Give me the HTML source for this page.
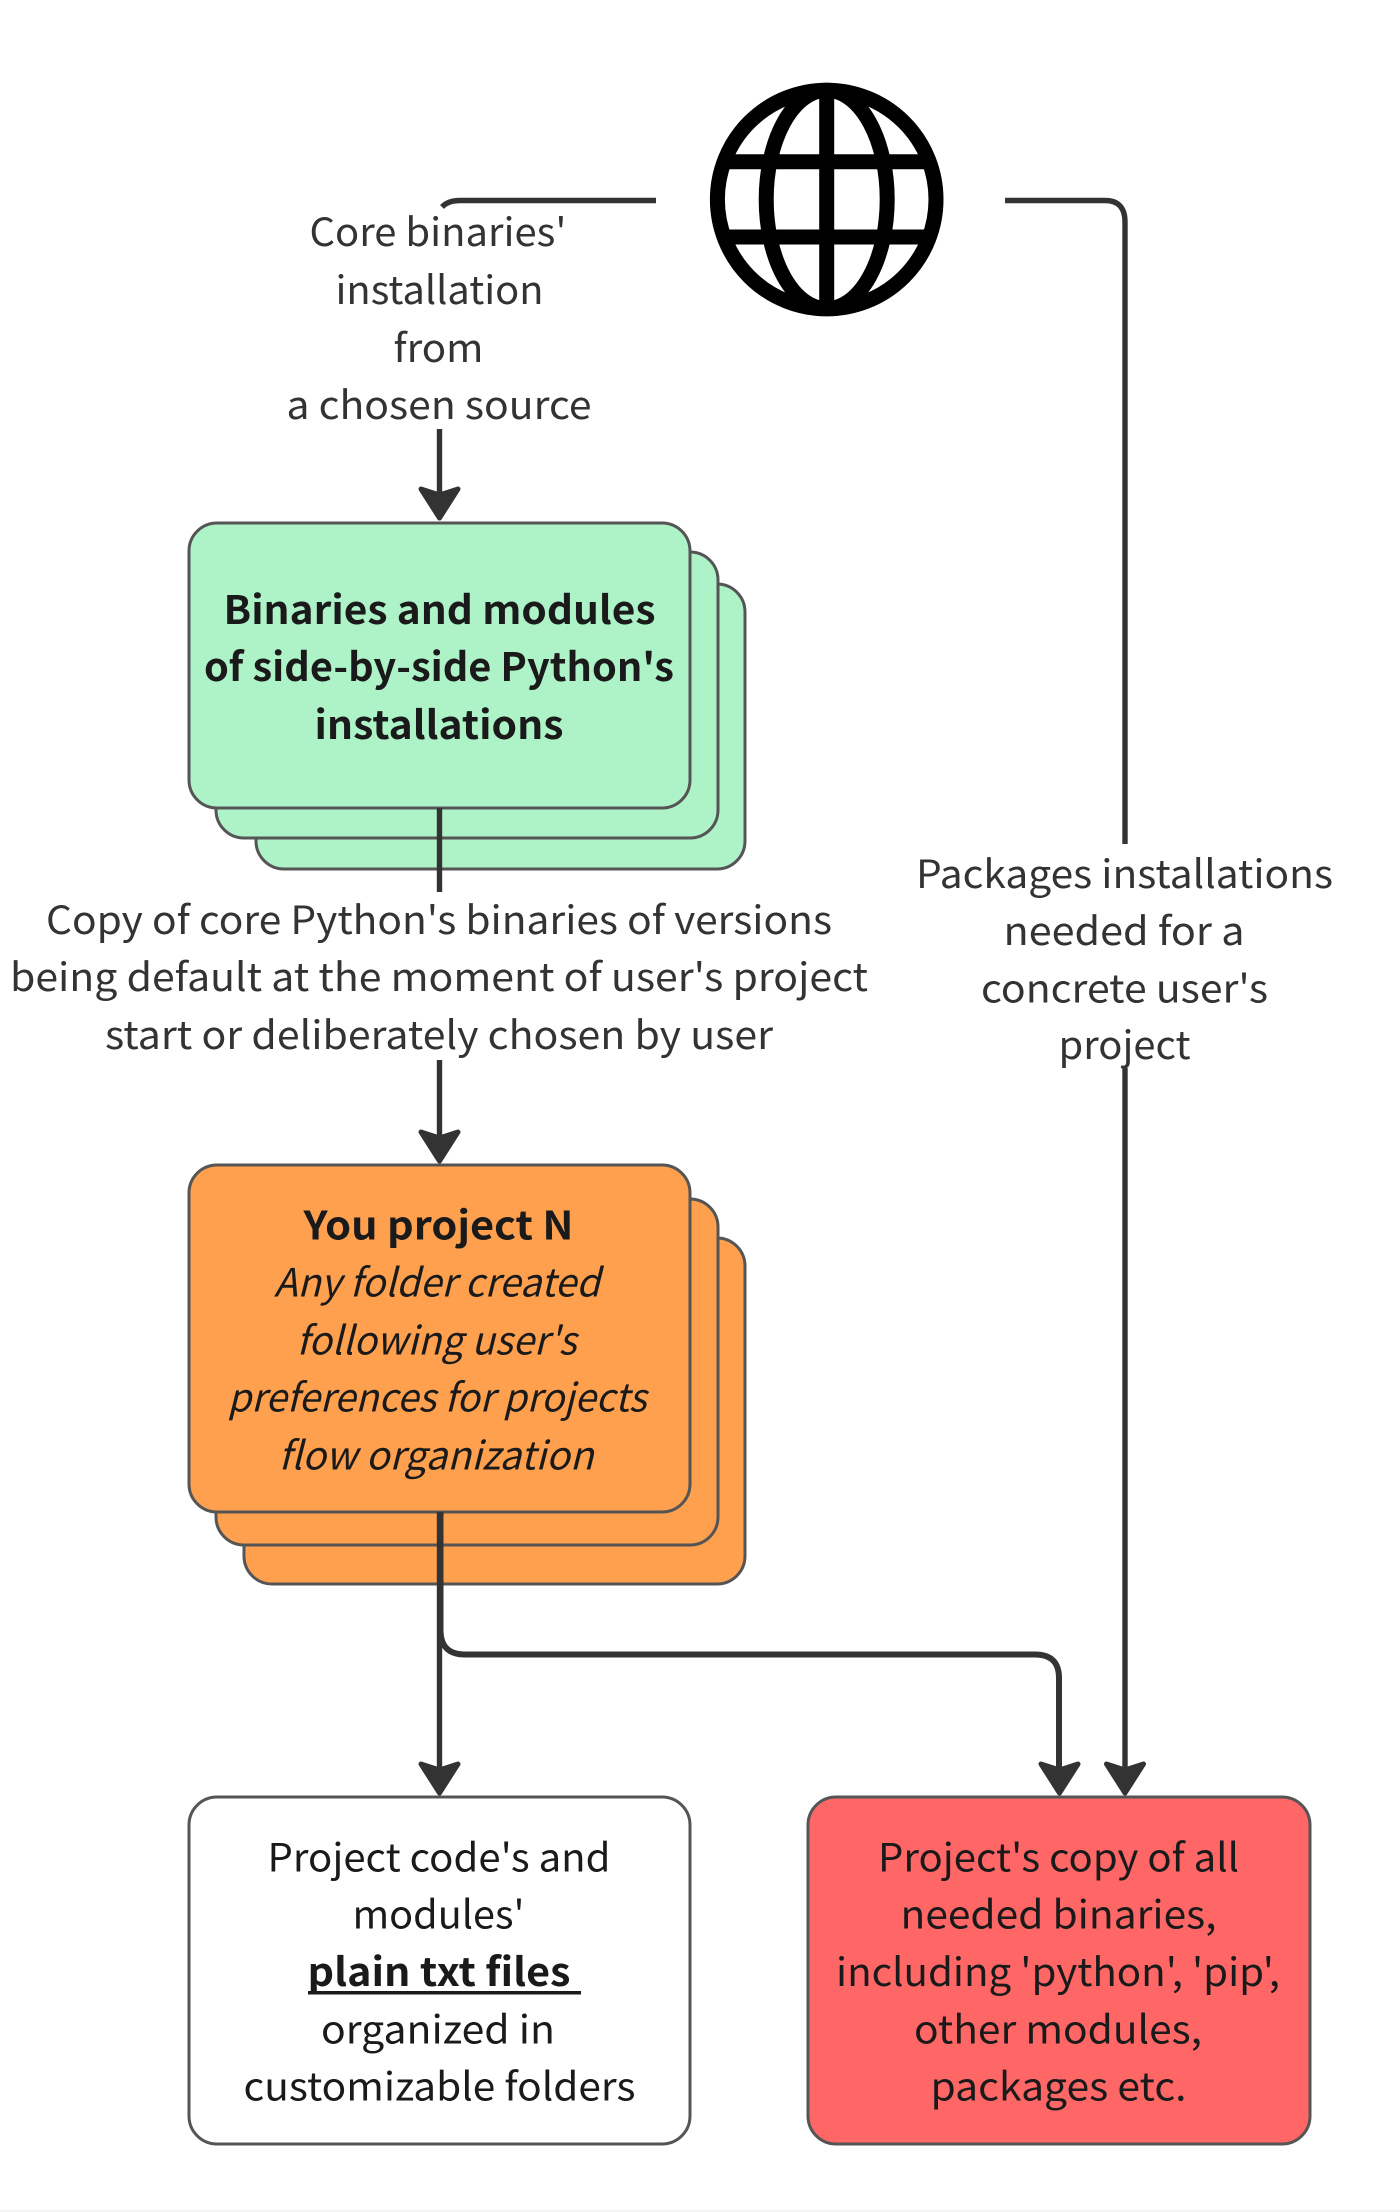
<!DOCTYPE html>
<html><head><meta charset="utf-8"><style>
html,body{margin:0;padding:0;background:#fff;width:1400px;height:2212px;overflow:hidden}
svg{display:block}
text{font-family:"Noto Sans CJK JP","Liberation Sans",sans-serif;font-size:39px;text-anchor:middle}
.e{fill:#333}
.n{fill:#1a1a1a}
.b{font-weight:700}
.i{font-style:italic}
.box{stroke:#555;stroke-width:3}
.line{fill:none;stroke:#333;stroke-width:5.4}
.ah{fill:#333;stroke:#333;stroke-width:5;stroke-linejoin:round}
</style></head><body>
<svg width="1400" height="2212" viewBox="0 0 1400 2212" xmlns="http://www.w3.org/2000/svg">
<rect width="1400" height="2212" fill="#fff"/>
<rect x="0" y="2210" width="1400" height="2" fill="#f3f3f3"/>

<!-- green stack -->
<rect class="box" x="256" y="584" width="489" height="285" rx="28" fill="#aef2c8"/>
<rect class="box" x="216" y="552" width="502" height="286" rx="28" fill="#aef2c8"/>
<rect class="box" x="189" y="523" width="501" height="285" rx="28" fill="#aef2c8"/>

<!-- orange stack -->
<rect class="box" x="244" y="1238" width="501" height="346" rx="28" fill="#ffa04f"/>
<rect class="box" x="216" y="1199" width="502" height="346" rx="28" fill="#ffa04f"/>
<rect class="box" x="189" y="1165" width="501" height="347" rx="28" fill="#ffa04f"/>

<!-- bottom boxes -->
<rect class="box" x="189" y="1797" width="501" height="347" rx="28" fill="#fff"/>
<rect class="box" x="808" y="1797" width="502" height="347" rx="28" fill="#ff6666"/>

<!-- connectors -->
<path class="line" d="M656 200.500H460Q448 200.500 442 207"/>
<path class="line" d="M439.500 429V495"/>
<path class="line" d="M439.500 808V892"/>
<path class="line" d="M439.500 1060V1140"/>
<path class="line" d="M439.500 1512V1770"/>
<path class="line" style="stroke-width:6" d="M440.500 1512V1630Q440.500 1654.500 465 1654.500H1035Q1059 1654.500 1059 1678V1770"/>
<path class="line" d="M1005 200.500H1105Q1125 200.500 1125 222V844"/>
<path class="line" d="M1125 1068V1770"/>

<path class="ah" d="M439.500 518L421 489L439.500 495L458 489Z"/>
<path class="ah" d="M439.500 1161L421 1132L439.500 1138L458 1132Z"/>
<path class="ah" d="M439.500 1793L421 1764L439.500 1770L458 1764Z"/>
<path class="ah" d="M1059.500 1793L1041 1764L1059.500 1770L1078 1764Z"/>
<path class="ah" d="M1125 1793L1106.500 1764L1125 1770L1143.500 1764Z"/>

<!-- globe -->
<g fill="none" stroke="#000" stroke-width="15">
<circle cx="826.700" cy="199.500" r="109.300"/>
<ellipse cx="826.700" cy="199.500" rx="60.500" ry="109.300"/>
<path d="M826.700 90V309M722 161.700H932M722 237H932"/>
</g>

<!-- edge labels -->
<text class="e" x="438" y="246" textLength="257" lengthAdjust="spacingAndGlyphs">Core binaries'</text>
<text class="e" x="439.500" y="304" textLength="208" lengthAdjust="spacingAndGlyphs">installation</text>
<text class="e" x="438.500" y="362" textLength="90" lengthAdjust="spacingAndGlyphs">from</text>
<text class="e" x="439" y="419" textLength="305" lengthAdjust="spacingAndGlyphs">a chosen source</text>

<text class="e" x="439" y="934" textLength="786" lengthAdjust="spacingAndGlyphs">Copy of core Python's binaries of versions</text>
<text class="e" x="439" y="991" textLength="858" lengthAdjust="spacingAndGlyphs">being default at the moment of user's project</text>
<text class="e" x="439" y="1049" textLength="668" lengthAdjust="spacingAndGlyphs">start or deliberately chosen by user</text>

<text class="e" x="1124.500" y="888" textLength="417" lengthAdjust="spacingAndGlyphs">Packages installations</text>
<text class="e" x="1124" y="945" textLength="241" lengthAdjust="spacingAndGlyphs">needed for a</text>
<text class="e" x="1124.500" y="1002.500" textLength="287" lengthAdjust="spacingAndGlyphs">concrete user's</text>
<text class="e" x="1124.500" y="1059" textLength="132" lengthAdjust="spacingAndGlyphs">project</text>

<!-- node labels -->
<text class="n b" x="439.500" y="624" textLength="432" lengthAdjust="spacingAndGlyphs">Binaries and modules</text>
<text class="n b" x="439" y="681" textLength="470" lengthAdjust="spacingAndGlyphs">of side-by-side Python's</text>
<text class="n b" x="439" y="739" textLength="249" lengthAdjust="spacingAndGlyphs">installations</text>

<text class="n b" x="438.500" y="1239.500" textLength="270" lengthAdjust="spacingAndGlyphs">You project N</text>
<text class="n i" x="437" y="1296.500" textLength="326" lengthAdjust="spacingAndGlyphs">Any folder created</text>
<text class="n i" x="436.500" y="1354.500" textLength="280" lengthAdjust="spacingAndGlyphs">following user's</text>
<text class="n i" x="437" y="1411.500" textLength="419" lengthAdjust="spacingAndGlyphs">preferences for projects</text>
<text class="n i" x="436" y="1469.500" textLength="315" lengthAdjust="spacingAndGlyphs">flow organization</text>

<text class="n" x="439" y="1871.500" textLength="343" lengthAdjust="spacingAndGlyphs">Project code's and</text>
<text class="n" x="438.500" y="1928.500" textLength="172" lengthAdjust="spacingAndGlyphs">modules'</text>
<text class="n b" x="439" y="1986" textLength="263" lengthAdjust="spacingAndGlyphs">plain txt files</text>
<rect x="308" y="1991" width="273" height="3.500" fill="#1a1a1a"/>
<text class="n" x="438" y="2043.500" textLength="234" lengthAdjust="spacingAndGlyphs">organized in</text>
<text class="n" x="439.500" y="2100.500" textLength="392" lengthAdjust="spacingAndGlyphs">customizable folders</text>

<text class="n" x="1058.500" y="1871.500" textLength="361" lengthAdjust="spacingAndGlyphs">Project's copy of all</text>
<text class="n" x="1058.500" y="1928.500" textLength="316" lengthAdjust="spacingAndGlyphs">needed binaries,</text>
<text class="n" x="1058" y="1986" textLength="444" lengthAdjust="spacingAndGlyphs">including 'python', 'pip',</text>
<text class="n" x="1058" y="2043.500" textLength="288" lengthAdjust="spacingAndGlyphs">other modules,</text>
<text class="n" x="1058.500" y="2100.500" textLength="256" lengthAdjust="spacingAndGlyphs">packages etc.</text>
</svg>
</body></html>
